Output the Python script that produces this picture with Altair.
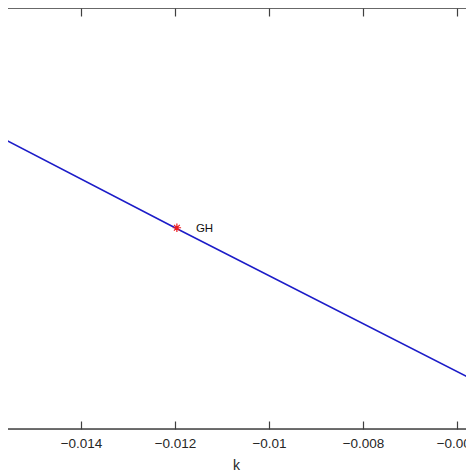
import altair as alt
import pandas as pd

# data
k_line = [-0.016, -0.012, -0.004]
y_line = [0.7095, 0.478, 0.0226]
k_point = [-0.01196]
y_point = [0.478]
point_label = ["GH"]
x_ticks = [-0.016, -0.014, -0.012, -0.01, -0.008, -0.006, -0.004]
x_domain = [-0.015596, -0.005809]
frame_y = [0, 1]

line_df = pd.DataFrame({"k": k_line, "y": y_line})
pt_df = pd.DataFrame({"k": k_point, "y": y_point, "label": point_label})
frame_df = pd.DataFrame({"y": frame_y})

xs = alt.Scale(domain=x_domain, nice=False, zero=False)
ys = alt.Scale(domain=[0, 1], nice=False, zero=False)

label_expr = "format(datum.value, '.3~f')"
FONT = "Liberation Sans"

line = alt.Chart(line_df).mark_line(color="#1c1cc8", strokeWidth=1.5, clip=True).encode(
    x=alt.X("k:Q", scale=xs, title="k",
            axis=alt.Axis(orient="bottom", values=x_ticks, offset=-8, tickSize=8,
                          domain=False, grid=False, labelPadding=7,
                          labelExpr=label_expr, labelFont=FONT, labelFlush=False,
                          labelFontSize=13.5, labelColor="#262626", tickColor="#404040",
                          tickWidth=1.2, titleFont=FONT, titleFontSize=14,
                          titleFontWeight="normal", titleColor="#262626",
                          titlePadding=9)),
    y=alt.Y("y:Q", scale=ys, axis=None),
)

top = alt.Chart(line_df).mark_line(opacity=0, clip=True).encode(
    x=alt.X("k:Q", scale=xs, title=None,
            axis=alt.Axis(orient="top", values=x_ticks, offset=-8, tickSize=8,
                          domain=False, grid=False, labels=False, tickColor="#404040",
                          tickWidth=1.2)),
    y=alt.Y("y:Q", scale=ys, axis=None),
)

frame = alt.Chart(frame_df).mark_rule(color="#404040", strokeWidth=1.3).encode(
    y=alt.Y("y:Q", scale=ys, axis=None)
)

star_path = "M-1,0L1,0M0,-1L0,1M-0.7,-0.7L0.7,0.7M-0.7,0.7L0.7,-0.7"
pt = alt.Chart(pt_df).mark_point(shape=star_path, color="#ee1c1c", size=70,
                                 filled=False, strokeWidth=1.2, opacity=1).encode(
    x=alt.X("k:Q", scale=xs, axis=None), y=alt.Y("y:Q", scale=ys, axis=None)
)
txt = alt.Chart(pt_df).mark_text(align="left", baseline="middle", dx=19, dy=1,
                                 fontSize=11.5, font=FONT, color="#111111").encode(
    x=alt.X("k:Q", scale=xs, axis=None), y=alt.Y("y:Q", scale=ys, axis=None),
    text="label:N"
)

chart = alt.layer(frame, line, top, pt, txt).resolve_axis(x="independent").properties(
    width=460, height=421,
    autosize=alt.AutoSizeParams(type="none"),
    padding={"left": -2, "top": 0, "right": 0, "bottom": 45},
).configure_view(stroke=None).configure(background="white")

chart.save("out.html", embed_options={"renderer": "svg", "actions": False})
